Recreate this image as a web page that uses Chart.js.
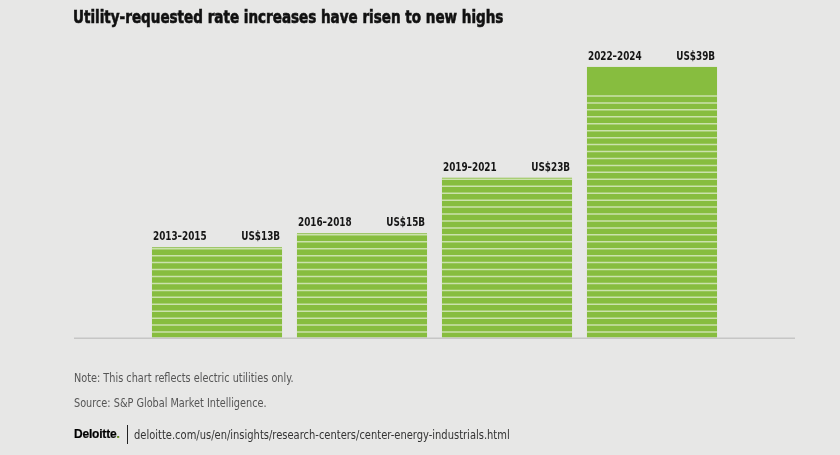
<!DOCTYPE html>
<html>
<head>
<meta charset="utf-8">
<script src="https://cdn.jsdelivr.net/npm/chart.js@4.4.1/dist/chart.umd.min.js"></script>
<style>
    html, body {
        margin: 0;
        padding: 0;
        width: 840px;
        height: 455px;
        background: #e7e7e6;
        overflow: hidden;
        font-family: "DejaVu Sans Condensed", "DejaVu Sans", sans-serif;
    }
    #chart-wrap {
        position: absolute;
        left: 0;
        top: 0;
        width: 840px;
        height: 455px;
    }
    .title {
        position: absolute;
        left: 73px;
        top: 6px;
        font-size: 18px;
        font-weight: bold;
        color: #111;
        -webkit-text-stroke: 0.6px #111;
        white-space: nowrap;
        transform: scaleX(0.835);
        transform-origin: left top;
    }
    .note {
        position: absolute;
        left: 74px;
        font-size: 12px;
        color: #555;
        white-space: nowrap;
        transform: scaleX(0.9);
        transform-origin: left top;
    }
    .footer {
        position: absolute;
        left: 74px;
        top: 424px;
        height: 20px;
        display: flex;
        align-items: center;
        white-space: nowrap;
    }
    .logo {
        font-family: "Liberation Sans", Arial, sans-serif;
        font-weight: bold;
        font-size: 12px;
        color: #000;
        letter-spacing: -0.2px;
        -webkit-text-stroke: 0.2px #000;
    }
    .logo span { color: #86bc25; }
    .sep {
        width: 1px;
        height: 19px;
        background: #222;
        margin: 0 6px 0 7px;
    }
    .url {
        font-size: 13px;
        color: #333;
        transform: scaleX(0.85);
        transform-origin: left center;
    }
</style>
</head>
<body>
<div id="chart-wrap"><canvas id="rate-chart" width="840" height="455"></canvas></div>
<div class="title">Utility-requested rate increases have risen to new highs</div>
<div class="note" style="top:371px">Note: This chart reflects electric utilities only.</div>
<div class="note" style="top:396px">Source: S&amp;P Global Market Intelligence.</div>
<div class="footer">
    <div class="logo">Deloitte<span>.</span></div>
    <div class="sep"></div>
    <div class="url">deloitte.com/us/en/insights/research-centers/center-energy-industrials.html</div>
</div>

<script>
// Data
const periods = ['2013–2015', '2016–2018', '2019–2021', '2022–2024'];
const increases = [13, 15, 23, 39];          // US$ billions
const valueLabels = ['US$13B', 'US$15B', 'US$23B', 'US$39B'];
const solidTop = [0, 0, 0, 4];               // stripes missing at the top of a bar

const GREEN = '#87bd3f';
const STRIPE = '#cbe2ac';
const LABEL_FONT = 'bold 12px "DejaVu Sans Condensed", "DejaVu Sans", sans-serif';
const LABEL_SQUEEZE = 0.82;

// Baseline under the bars, wider than the plot
const baselinePlugin = {
    id: 'baseline',
    beforeDatasetsDraw(chart) {
        const ctx = chart.ctx;
        const y = chart.scales.y.getPixelForValue(0) + 0.8;
        ctx.save();
        ctx.strokeStyle = '#c6c6c5';
        ctx.lineWidth = 1.6;
        ctx.beginPath();
        ctx.moveTo(74, y);
        ctx.lineTo(795, y);
        ctx.stroke();
        ctx.restore();
    }
};

// draw condensed text by squeezing horizontally
function squeezedText(ctx, text, x, y, align) {
    ctx.save();
    ctx.translate(x, y);
    ctx.scale(LABEL_SQUEEZE, 1);
    ctx.textAlign = align;
    ctx.fillText(text, 0, 0);
    ctx.restore();
}

// Light horizontal stripes (one per billion) and the labels above each bar
const stripesPlugin = {
    id: 'stripes',
    afterDatasetsDraw(chart) {
        const ctx = chart.ctx;
        const yScale = chart.scales.y;
        const meta = chart.getDatasetMeta(0);
        ctx.save();
        meta.data.forEach((bar, i) => {
            const left = bar.x - bar.width / 2;
            const right = bar.x + bar.width / 2;
            const v = increases[i];

            ctx.strokeStyle = STRIPE;
            ctx.lineWidth = 1.5;
            for (let k = solidTop[i]; k < v; k++) {
                const y = yScale.getPixelForValue(v - k) + 1.5;
                ctx.beginPath();
                ctx.moveTo(left, y);
                ctx.lineTo(right, y);
                ctx.stroke();
            }

            ctx.fillStyle = '#151515';
            ctx.strokeStyle = '#151515';
            ctx.font = LABEL_FONT;
            ctx.textBaseline = 'alphabetic';
            squeezedText(ctx, periods[i], left + 1, bar.y - 7, 'left');
            squeezedText(ctx, valueLabels[i], right - 2, bar.y - 7, 'right');
        });
        ctx.restore();
    }
};

const ctx = document.getElementById('rate-chart').getContext('2d');
new Chart(ctx, {
    type: 'bar',
    data: {
        labels: periods,
        datasets: [{
            data: increases,
            backgroundColor: GREEN,
            borderWidth: 0,
            categoryPercentage: 1,
            barPercentage: 0.897
        }]
    },
    options: {
        responsive: false,
        animation: false,
        layout: {
            padding: { left: 144.5, right: 115.5, top: 66.7, bottom: 117.5 }
        },
        plugins: {
            legend: { display: false },
            tooltip: { enabled: false }
        },
        scales: {
            x: { display: false },
            y: { display: false, min: 0, max: 39 }
        }
    },
    plugins: [baselinePlugin, stripesPlugin]
});
</script>
</body>
</html>
